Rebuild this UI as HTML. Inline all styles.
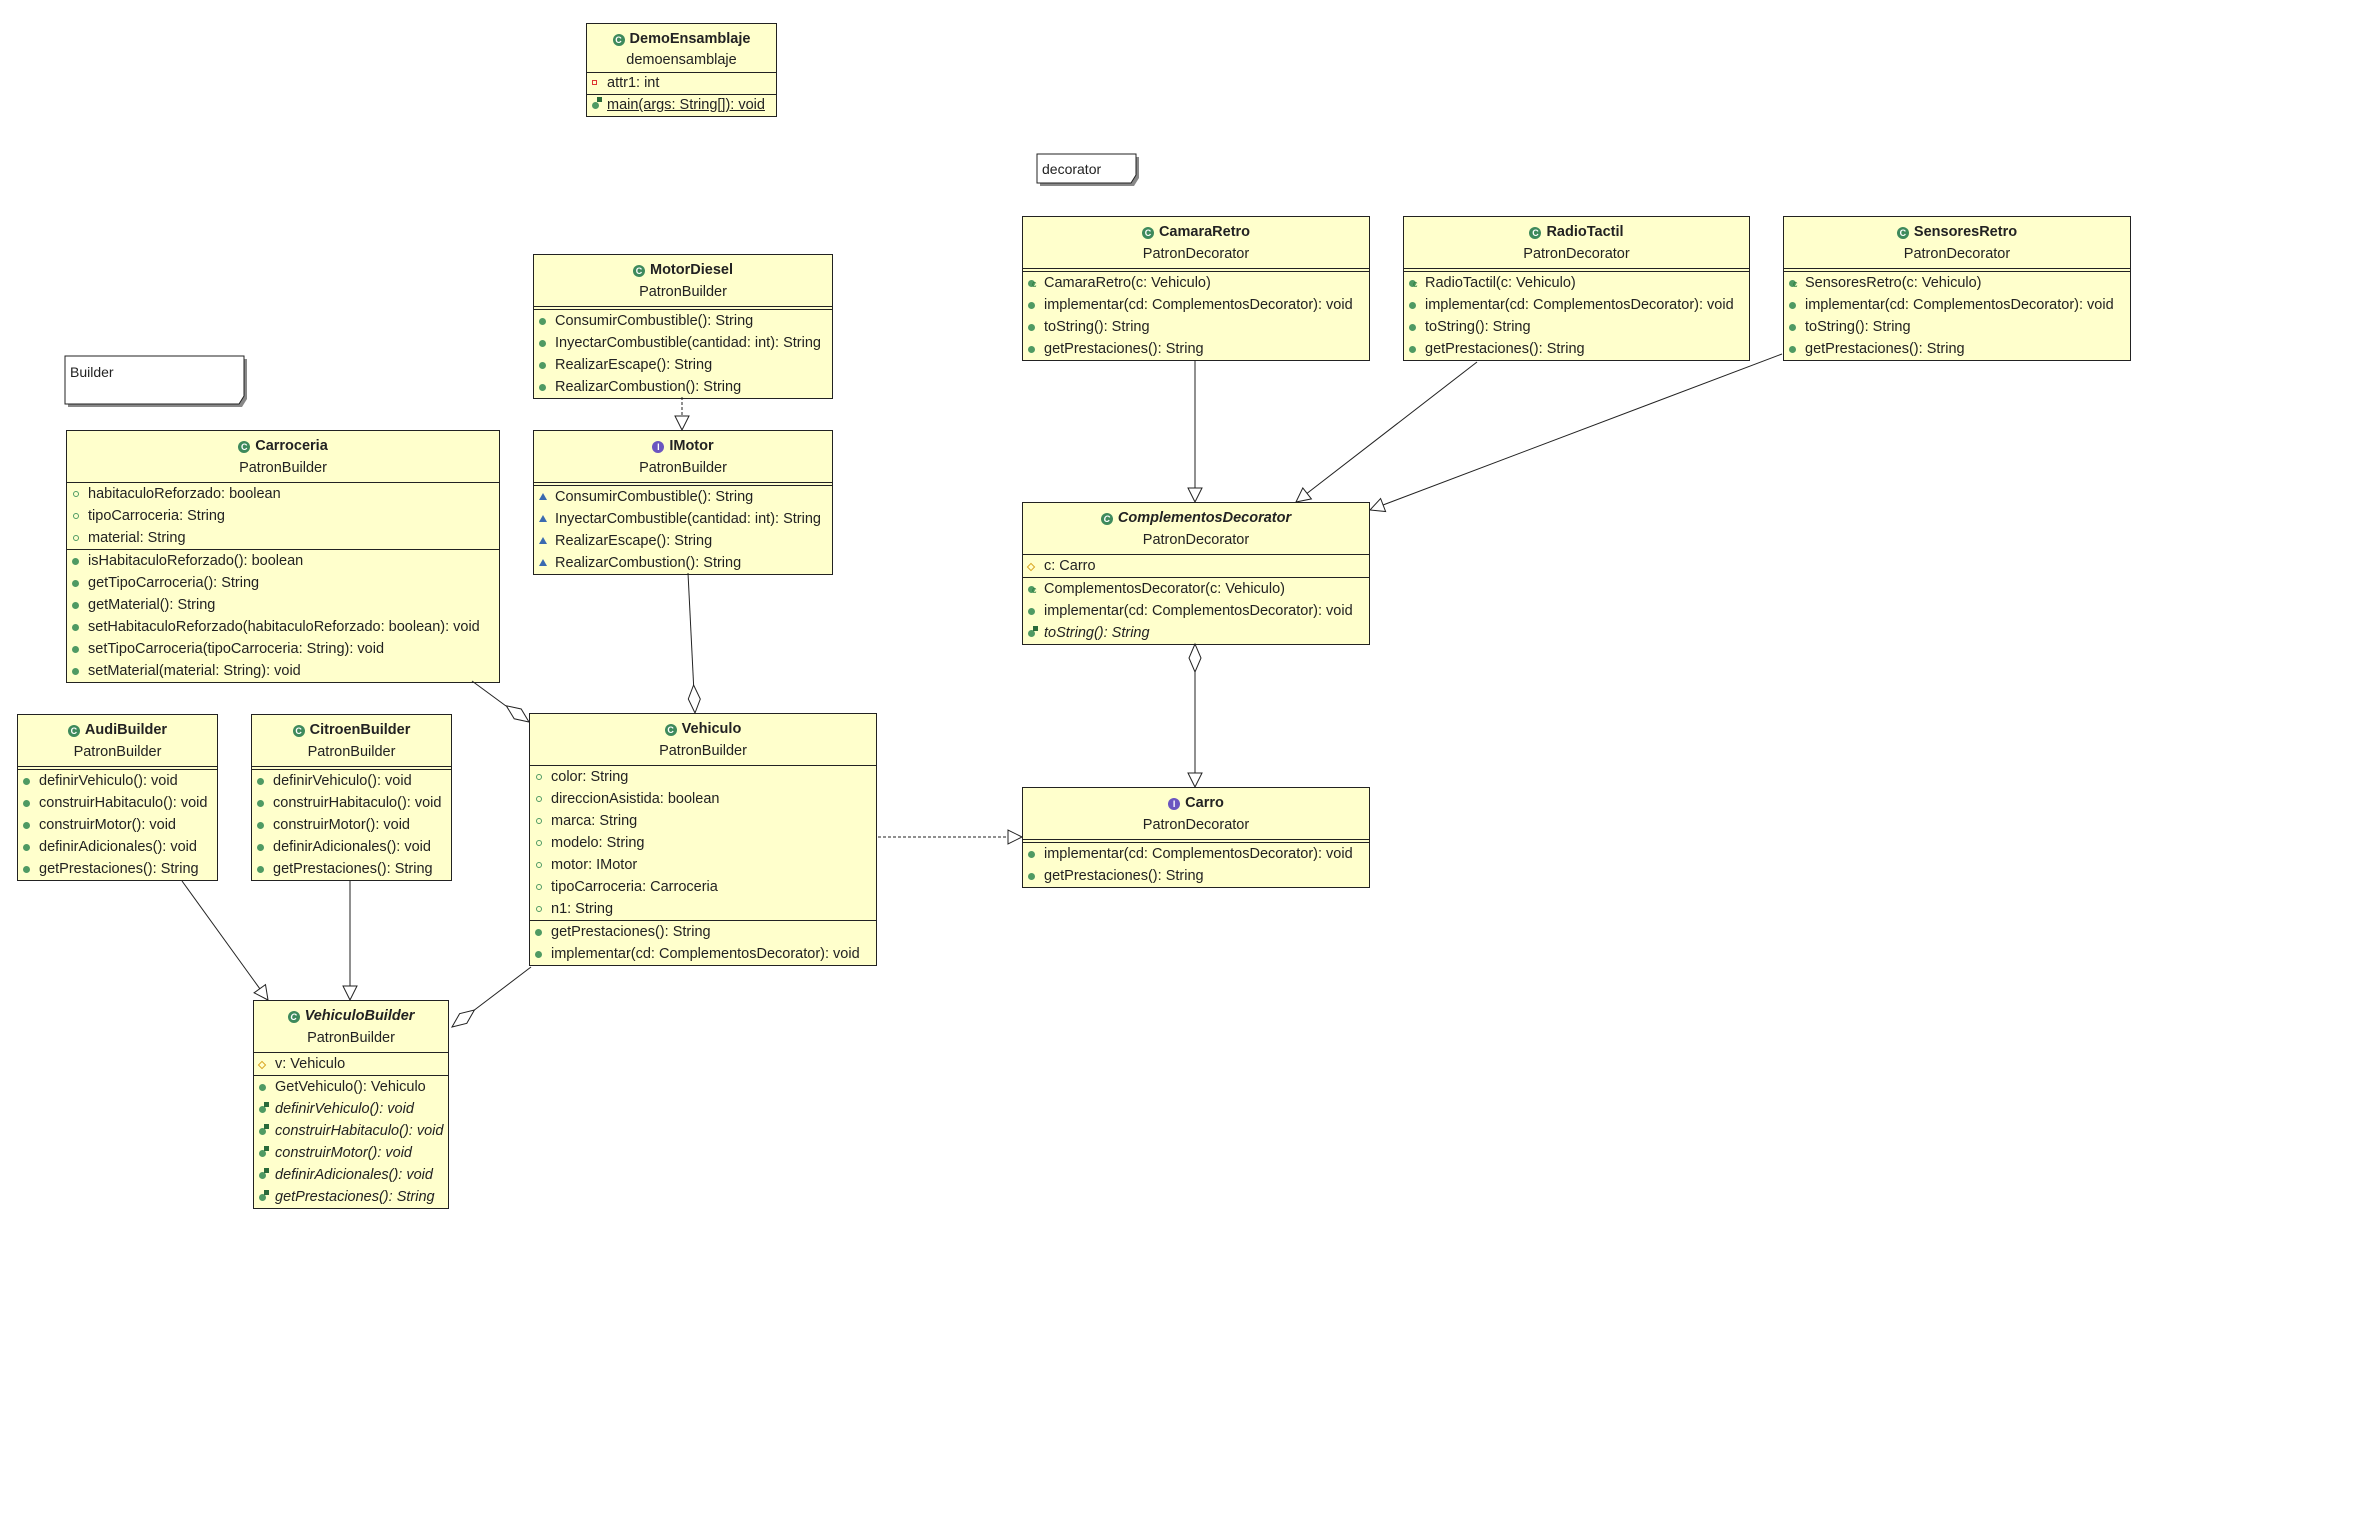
<!DOCTYPE html>
<html><head><meta charset="utf-8"><style>
body{margin:0;width:2376px;height:1532px;background:#fff;position:relative;overflow:hidden;font-family:"Liberation Sans",sans-serif;font-size:14.5px;color:#222}
.b{position:absolute;background:#ffffcc;border:1px solid #222;box-sizing:border-box}
.h{height:51px;border-bottom:1px solid #222;text-align:center}
.t{font-weight:bold;padding-top:5px;height:20px;line-height:20px}
.p{line-height:24px}
.c{border-bottom:1px solid #222;padding:0}
.c:last-child{border-bottom:none}
.e{height:2px;border-bottom:1px solid #222}
.r{height:22px;line-height:22px;padding-left:21px;white-space:nowrap;position:relative}
.r i{position:absolute;left:5px;top:8px;width:7px;height:7px;border-radius:50%;background:#4f9a63}
.r i.f{background:none;border:1.5px solid #4f9a63;width:4px;height:4px;top:8px;left:6px}
.r i.a{border-radius:0;background:none;width:0;height:0;border-left:4px solid transparent;border-right:4px solid transparent;border-bottom:7px solid #3a6ab0;top:7px}
.r i.pr{border-radius:0;background:none;border:1.5px solid #d33;width:3px;height:3px;top:9px}
.r i.pt{border-radius:0;background:none;border:1px solid #d9a520;width:4px;height:4px;transform:rotate(45deg);top:9px}
.r b.k{position:absolute;left:9px;top:1px;font-size:9px;color:#2a7a3a;font-weight:normal}
.r b.g{position:absolute;left:10px;top:4px;width:5px;height:5px;background:#2a6a3a}
.ci{display:inline-block;width:12px;height:12px;border-radius:50%;background:#3e8a5c;color:#fff;font-size:9px;line-height:12px;text-align:center;margin-right:5px;vertical-align:0px}
.ii{background:#6b55c0}
.it{font-style:italic}
</style></head><body>

<div class="b" style="left:586px;top:23px;width:191px">
<div class="h" style="height:48px"><div class="t"><span class="ci">C</span>DemoEnsamblaje</div><div class="p" style="line-height:22px">demoensamblaje</div></div>
<div class="c"><div class="r" style="height:21px;line-height:21px;padding-left:20px"><i class="pr" style="top:7px"></i>attr1: int</div></div>
<div class="c"><div class="r" style="height:21px;line-height:21px;padding-left:20px"><i style="top:7px"></i><b class="g" style="top:2px"></b><u>main(args: String[]): void</u></div></div>
</div>

<div class="b" style="left:533px;top:254px;width:300px">
<div class="h"><div class="t"><span class="ci">C</span>MotorDiesel</div><div class="p">PatronBuilder</div></div>
<div class="e"></div>
<div class="c">
<div class="r"><i></i>ConsumirCombustible(): String</div>
<div class="r"><i></i>InyectarCombustible(cantidad: int): String</div>
<div class="r"><i></i>RealizarEscape(): String</div>
<div class="r"><i></i>RealizarCombustion(): String</div></div>
</div>

<div class="b" style="left:533px;top:430px;width:300px">
<div class="h"><div class="t"><span class="ci ii">I</span>IMotor</div><div class="p">PatronBuilder</div></div>
<div class="e"></div>
<div class="c">
<div class="r"><i class="a"></i>ConsumirCombustible(): String</div>
<div class="r"><i class="a"></i>InyectarCombustible(cantidad: int): String</div>
<div class="r"><i class="a"></i>RealizarEscape(): String</div>
<div class="r"><i class="a"></i>RealizarCombustion(): String</div></div>
</div>

<div class="b" style="left:66px;top:430px;width:434px">
<div class="h"><div class="t"><span class="ci">C</span>Carroceria</div><div class="p">PatronBuilder</div></div>
<div class="c">
<div class="r"><i class="f"></i>habitaculoReforzado: boolean</div>
<div class="r"><i class="f"></i>tipoCarroceria: String</div>
<div class="r"><i class="f"></i>material: String</div></div>
<div class="c">
<div class="r"><i></i>isHabitaculoReforzado(): boolean</div>
<div class="r"><i></i>getTipoCarroceria(): String</div>
<div class="r"><i></i>getMaterial(): String</div>
<div class="r"><i></i>setHabitaculoReforzado(habitaculoReforzado: boolean): void</div>
<div class="r"><i></i>setTipoCarroceria(tipoCarroceria: String): void</div>
<div class="r"><i></i>setMaterial(material: String): void</div></div>
</div>

<div class="b" style="left:17px;top:714px;width:201px">
<div class="h"><div class="t"><span class="ci">C</span>AudiBuilder</div><div class="p">PatronBuilder</div></div>
<div class="e"></div>
<div class="c">
<div class="r"><i></i>definirVehiculo(): void</div>
<div class="r"><i></i>construirHabitaculo(): void</div>
<div class="r"><i></i>construirMotor(): void</div>
<div class="r"><i></i>definirAdicionales(): void</div>
<div class="r"><i></i>getPrestaciones(): String</div></div>
</div>

<div class="b" style="left:251px;top:714px;width:201px">
<div class="h"><div class="t"><span class="ci">C</span>CitroenBuilder</div><div class="p">PatronBuilder</div></div>
<div class="e"></div>
<div class="c">
<div class="r"><i></i>definirVehiculo(): void</div>
<div class="r"><i></i>construirHabitaculo(): void</div>
<div class="r"><i></i>construirMotor(): void</div>
<div class="r"><i></i>definirAdicionales(): void</div>
<div class="r"><i></i>getPrestaciones(): String</div></div>
</div>

<div class="b" style="left:529px;top:713px;width:348px">
<div class="h"><div class="t"><span class="ci">C</span>Vehiculo</div><div class="p">PatronBuilder</div></div>
<div class="c">
<div class="r"><i class="f"></i>color: String</div>
<div class="r"><i class="f"></i>direccionAsistida: boolean</div>
<div class="r"><i class="f"></i>marca: String</div>
<div class="r"><i class="f"></i>modelo: String</div>
<div class="r"><i class="f"></i>motor: IMotor</div>
<div class="r"><i class="f"></i>tipoCarroceria: Carroceria</div>
<div class="r"><i class="f"></i>n1: String</div></div>
<div class="c">
<div class="r"><i></i>getPrestaciones(): String</div>
<div class="r"><i></i>implementar(cd: ComplementosDecorator): void</div></div>
</div>

<div class="b" style="left:253px;top:1000px;width:196px">
<div class="h"><div class="t it"><span class="ci">C</span>VehiculoBuilder</div><div class="p">PatronBuilder</div></div>
<div class="c"><div class="r"><i class="pt"></i>v: Vehiculo</div></div>
<div class="c">
<div class="r"><i></i>GetVehiculo(): Vehiculo</div>
<div class="r it"><i></i><b class="g"></b>definirVehiculo(): void</div>
<div class="r it"><i></i><b class="g"></b>construirHabitaculo(): void</div>
<div class="r it"><i></i><b class="g"></b>construirMotor(): void</div>
<div class="r it"><i></i><b class="g"></b>definirAdicionales(): void</div>
<div class="r it"><i></i><b class="g"></b>getPrestaciones(): String</div></div>
</div>

<div class="b" style="left:1022px;top:216px;width:348px">
<div class="h"><div class="t"><span class="ci">C</span>CamaraRetro</div><div class="p">PatronDecorator</div></div>
<div class="e"></div>
<div class="c">
<div class="r"><i></i><b class="k">c</b>CamaraRetro(c: Vehiculo)</div>
<div class="r"><i></i>implementar(cd: ComplementosDecorator): void</div>
<div class="r"><i></i>toString(): String</div>
<div class="r"><i></i>getPrestaciones(): String</div></div>
</div>

<div class="b" style="left:1403px;top:216px;width:347px">
<div class="h"><div class="t"><span class="ci">C</span>RadioTactil</div><div class="p">PatronDecorator</div></div>
<div class="e"></div>
<div class="c">
<div class="r"><i></i><b class="k">c</b>RadioTactil(c: Vehiculo)</div>
<div class="r"><i></i>implementar(cd: ComplementosDecorator): void</div>
<div class="r"><i></i>toString(): String</div>
<div class="r"><i></i>getPrestaciones(): String</div></div>
</div>

<div class="b" style="left:1783px;top:216px;width:348px">
<div class="h"><div class="t"><span class="ci">C</span>SensoresRetro</div><div class="p">PatronDecorator</div></div>
<div class="e"></div>
<div class="c">
<div class="r"><i></i><b class="k">c</b>SensoresRetro(c: Vehiculo)</div>
<div class="r"><i></i>implementar(cd: ComplementosDecorator): void</div>
<div class="r"><i></i>toString(): String</div>
<div class="r"><i></i>getPrestaciones(): String</div></div>
</div>

<div class="b" style="left:1022px;top:502px;width:348px">
<div class="h"><div class="t it"><span class="ci">C</span>ComplementosDecorator</div><div class="p">PatronDecorator</div></div>
<div class="c"><div class="r"><i class="pt"></i>c: Carro</div></div>
<div class="c">
<div class="r"><i></i><b class="k">c</b>ComplementosDecorator(c: Vehiculo)</div>
<div class="r"><i></i>implementar(cd: ComplementosDecorator): void</div>
<div class="r it"><i></i><b class="g"></b>toString(): String</div></div>
</div>

<div class="b" style="left:1022px;top:787px;width:348px">
<div class="h"><div class="t"><span class="ci ii">I</span>Carro</div><div class="p">PatronDecorator</div></div>
<div class="e"></div>
<div class="c">
<div class="r"><i></i>implementar(cd: ComplementosDecorator): void</div>
<div class="r"><i></i>getPrestaciones(): String</div></div>
</div>

<svg width="2376" height="1532" style="position:absolute;left:0;top:0" xmlns="http://www.w3.org/2000/svg">
<g fill="#fff" stroke="#222" stroke-width="1">
<path d="M68,359 H247 V399 L242,407 H68 Z" fill="#888" stroke="none"/>
<path d="M65,356 H244 V396 L239,404 H65 Z"/>
<path d="M1040,157 H1139 V178 L1134,186 H1040 Z" fill="#888" stroke="none"/>
<path d="M1037,154 H1136 V175 L1131,183 H1037 Z"/>
</g>
<text x="70" y="377" font-family="Liberation Sans,sans-serif" font-size="14" fill="#222">Builder</text>
<text x="1042" y="174" font-family="Liberation Sans,sans-serif" font-size="14" fill="#222">decorator</text>
<g fill="none" stroke="#222" stroke-width="1">
<line x1="682" y1="397" x2="682" y2="416" stroke-dasharray="3,2"/>
<polygon points="682,430 675,416 689,416" fill="#fff"/>
<line x1="688" y1="573" x2="693.6" y2="685"/>
<polygon points="695,713 688.3,699 693.6,685 700.3,699" fill="#fff"/>
<line x1="472" y1="681" x2="506" y2="706"/>
<polygon points="529,722 521.2,709 506.3,705.8 514.2,718.8" fill="#fff"/>
<line x1="182" y1="881" x2="259.8" y2="988.7"/>
<polygon points="268,1000 254.1,992.8 265.5,984.6" fill="#fff"/>
<line x1="350" y1="881" x2="350" y2="986"/>
<polygon points="350,1000 343,986 357,986" fill="#fff"/>
<line x1="531" y1="967" x2="474.4" y2="1010"/>
<polygon points="452,1027 466.8,1023.3 474.4,1010 459.6,1013.7" fill="#fff"/>
<line x1="878" y1="837" x2="1008" y2="837" stroke-dasharray="3,2"/>
<polygon points="1022,837 1008,830 1008,844" fill="#fff"/>
<line x1="1195" y1="360" x2="1195" y2="488"/>
<polygon points="1195,502 1188,488 1202,488" fill="#fff"/>
<line x1="1477" y1="362" x2="1307" y2="493.4"/>
<polygon points="1296,502 1302.8,487.9 1311.4,498.9" fill="#fff"/>
<line x1="1782" y1="354" x2="1383" y2="505"/>
<polygon points="1370,510 1380.6,498.5 1385.6,511.5" fill="#fff"/>
<polygon points="1195,644 1189,658 1195,672 1201,658" fill="#fff"/>
<line x1="1195" y1="672" x2="1195" y2="787"/>
<polygon points="1195,787 1188,773 1202,773" fill="#fff"/>
</g>
</svg>
</body></html>
